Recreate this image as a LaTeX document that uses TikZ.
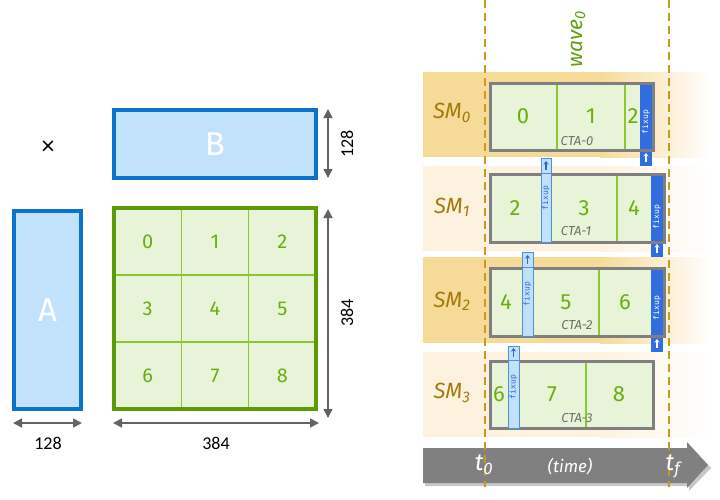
\documentclass[tikz,border=0pt]{standalone}
\usepackage{fontspec}
\setmainfont{Fira Sans}
\newfontfamily\dimfont{Carlito}
\newfontfamily\fixfont{DejaVu Sans Mono}
\usetikzlibrary{arrows.meta}
\definecolor{mblue}{HTML}{0A74CC}
\definecolor{mbluefill}{HTML}{C2E2FC}
\definecolor{gborder}{HTML}{5C9A0A}
\definecolor{gline}{HTML}{88C832}
\definecolor{gfill}{HTML}{E7F4D7}
\definecolor{gtext}{HTML}{6AAF12}
\definecolor{ctaborder}{HTML}{7F7F7F}
\definecolor{dfix}{HTML}{2F6DE0}
\definecolor{lfix}{HTML}{C0E0FB}
\definecolor{lfixb}{HTML}{4F8FE2}
\definecolor{lfixt}{HTML}{2C69D2}
\definecolor{smdark}{HTML}{F6DA98}
\definecolor{smlight}{HTML}{FDF2DE}
\definecolor{smtext}{HTML}{A47A0C}
\definecolor{dashc}{HTML}{C99A1C}
\definecolor{dimc}{HTML}{636363}
\definecolor{timeg}{HTML}{808080}
\definecolor{ctatext}{HTML}{6E6E6E}
\definecolor{wavec}{HTML}{5F9E0E}
\begin{document}
\begin{tikzpicture}[x=1pt,y=-1pt,
  every node/.style={inner sep=0pt,outer sep=0pt},
  matbox/.style={draw=mblue,fill=mbluefill,line width=3.5pt,text=white,font=\fontsize{33}{36}\selectfont},
  gcell/.style={draw=gline,fill=gfill,line width=1.2pt,minimum width=67.33pt,minimum height=67pt,text=gtext,font=\fontsize{20}{24}\selectfont},
  dimarrow/.style={draw=dimc,line width=1.6pt,{Triangle[length=9pt,width=9pt]}-{Triangle[length=9pt,width=9pt]}},
  dimlabel/.style={font=\dimfont\fontsize{18}{20}\selectfont,text=black},
  smlabel/.style={font=\fontsize{22}{24}\selectfont\itshape,text=smtext},
  ctadigit/.style={font=\fontsize{22}{26}\selectfont,text=gtext},
  ctalabel/.style={font=\fontsize{13}{16}\selectfont\itshape,text=ctatext},
  cellsep/.style={draw=gline,line width=1.2pt},
  ctabox/.style={draw=ctaborder,line width=3pt},
  darkbar/.style={fill=dfix},
  lightbar/.style={fill=lfix,draw=lfixb,line width=0.9pt},
  darktxt/.style={rotate=90,font=\fixfont\fontsize{8}{8}\selectfont,text=white},
  lighttxt/.style={rotate=90,font=\fixfont\fontsize{8}{8}\selectfont,text=lfixt},
  uparrow/.style={line width=1.2pt,-{Stealth[length=3.5pt,width=5pt]}},
  timelabel/.style={font=\fontsize{24}{26}\selectfont\itshape,text=white},
  gline dash/.style={draw=dashc,line width=2pt,dash pattern=on 8pt off 5pt}
]
\useasboundingbox (0,0) rectangle (720,499);

% ---------------- left part ----------------
\node[font=\dimfont\fontsize{26}{26}\selectfont] (times) at (48,148) {×};
\node[matbox,minimum width=202pt,minimum height=68pt] (B) at (215,144) {B};
\node[matbox,minimum width=67pt,minimum height=198pt] (A) at (47.5,310) {A};
\foreach \r in {0,1,2}{
  \foreach \c in {0,1,2}{
    \pgfmathtruncatemacro\n{3*\r+\c}
    \node[gcell] (cell\n) at ({147.67+67.33*\c},{241.5+67*\r}) {\n};
  }
}
\node[draw=gborder,line width=4pt,minimum width=202pt,minimum height=201pt] (C) at (215,308.5) {};

\coordinate (bh1) at (328,109);
\coordinate (bh2) at (328,178);
\draw[dimarrow] (bh1) -- (bh2);
\node[dimlabel,rotate=90] (bhl) at (347,144) {128};
\coordinate (ch1) at (328,209);
\coordinate (ch2) at (328,418);
\draw[dimarrow] (ch1) -- (ch2);
\node[dimlabel,rotate=90] (chl) at (347,313) {384};
\coordinate (aw1) at (13,423);
\coordinate (aw2) at (82,423);
\draw[dimarrow] (aw1) -- (aw2);
\node[dimlabel] (awl) at (48,443) {128};
\coordinate (cw1) at (113,423);
\coordinate (cw2) at (319,423);
\draw[dimarrow] (cw1) -- (cw2);
\node[dimlabel] (cwl) at (216,443) {384};

% ---------------- right part ----------------
% SM bands
\fill[smdark] (423,72) rectangle (601,157);
\shade[left color=smdark,right color=white] (600,72) rectangle (712,157);
\fill[smlight] (423,166) rectangle (601,251);
\shade[left color=smlight,right color=white] (600,166) rectangle (712,251);
\fill[smdark] (423,257) rectangle (601,343);
\shade[left color=smdark,right color=white] (600,257) rectangle (712,343);
\fill[smlight] (423,352) rectangle (601,437);
\shade[left color=smlight,right color=white] (600,352) rectangle (712,437);

\node[smlabel] (sm0) at (452,113) {SM\textsubscript{0}};
\node[smlabel] (sm1) at (452,207) {SM\textsubscript{1}};
\node[smlabel] (sm2) at (452,301) {SM\textsubscript{2}};
\node[smlabel] (sm3) at (452,393) {SM\textsubscript{3}};

% time arrow
\fill[black!22] (425,451) -- (689,451) -- (689,445) -- (711,468) -- (689,491) -- (689,486) -- (425,486) -- cycle;
\fill[timeg] (423,448) -- (687,448) -- (687,442) -- (708,465) -- (687,488) -- (687,483) -- (423,483) -- cycle;

% dashed time marks
\coordinate (d1a) at (485,0);
\coordinate (d1b) at (485,487);
\coordinate (d2a) at (669,0);
\coordinate (d2b) at (669,487);
\draw[gline dash] (d1a) -- (d1b);
\draw[gline dash] (d2a) -- (d2b);
\node[rotate=90,font=\fontsize{21}{22}\selectfont\itshape,text=wavec] (wave) at (578,39) {wave\textsubscript{0}};

\node[timelabel] (t0) at (484,465) {t\textsubscript{0}};
\node[font=\fontsize{17}{20}\selectfont\itshape,text=white] (time) at (570,467) {(time)};
\node[timelabel] (tf) at (673,466) {t\textsubscript{f}};

% CTA-0
\fill[gfill] (490,83) rectangle (653,150);
\draw[cellsep] (557,83) -- (557,150);
\draw[cellsep] (625,83) -- (625,150);
\fill[darkbar] (640,83) rectangle (652,166);
\draw[ctabox] (490,83) rectangle (653,150);
\draw[uparrow,white] (646,162) -- (646,153);
\node[darktxt] (fx0d) at (646,122) {fixup};
\node[ctadigit] (c00) at (523,116) {0};
\node[ctadigit] (c01) at (591,116) {1};
\node[ctadigit] (c02) at (633,116) {2};
\node[ctalabel] (cta0) at (577,141) {CTA-0};

% CTA-1
\fill[gfill] (490,174) rectangle (664,242);
\draw[cellsep] (617,174) -- (617,242);
\fill[darkbar] (651,174) rectangle (663,257);
\draw[ctabox] (490,174) rectangle (664,242);
\filldraw[lightbar] (541,158) rectangle (551,242);
\draw[lfixb,line width=0.9pt] (541,173) -- (551,173);
\draw[uparrow,lfixt] (546,170) -- (546,161);
\draw[uparrow,white] (657,253) -- (657,244);
\node[lighttxt] (fx1l) at (546,198) {fixup};
\node[darktxt] (fx1d) at (657,217) {fixup};
\node[ctadigit] (c12) at (515,208) {2};
\node[ctadigit] (c13) at (584,208) {3};
\node[ctadigit] (c14) at (634,208) {4};
\node[ctalabel] (cta1) at (576,231) {CTA-1};

% CTA-2
\fill[gfill] (490,268) rectangle (664,336);
\draw[cellsep] (599,268) -- (599,336);
\fill[darkbar] (651,268) rectangle (663,352);
\draw[ctabox] (490,268) rectangle (664,336);
\filldraw[lightbar] (522,252) rectangle (533,336);
\draw[lfixb,line width=0.9pt] (522,267) -- (533,267);
\draw[uparrow,lfixt] (527.5,264) -- (527.5,255);
\draw[uparrow,white] (657,348) -- (657,339);
\node[lighttxt] (fx2l) at (527.5,294) {fixup};
\node[darktxt] (fx2d) at (657,308) {fixup};
\node[ctadigit] (c24) at (506,302) {4};
\node[ctadigit] (c25) at (566,302) {5};
\node[ctadigit] (c26) at (625,302) {6};
\node[ctalabel] (cta2) at (577,325) {CTA-2};

% CTA-3
\fill[gfill] (490,361) rectangle (653,428);
\draw[cellsep] (586,361) -- (586,428);
\draw[ctabox] (490,361) rectangle (653,428);
\filldraw[lightbar] (508,346) rectangle (519,428);
\draw[lfixb,line width=0.9pt] (508,360) -- (519,360);
\draw[uparrow,lfixt] (513.5,357) -- (513.5,348);
\node[lighttxt] (fx3l) at (513.5,387) {fixup};
\node[ctadigit] (c36) at (499,394) {6};
\node[ctadigit] (c37) at (552,394) {7};
\node[ctadigit] (c38) at (619,394) {8};
\node[ctalabel] (cta3) at (577,418) {CTA-3};
\end{tikzpicture}
\end{document}
